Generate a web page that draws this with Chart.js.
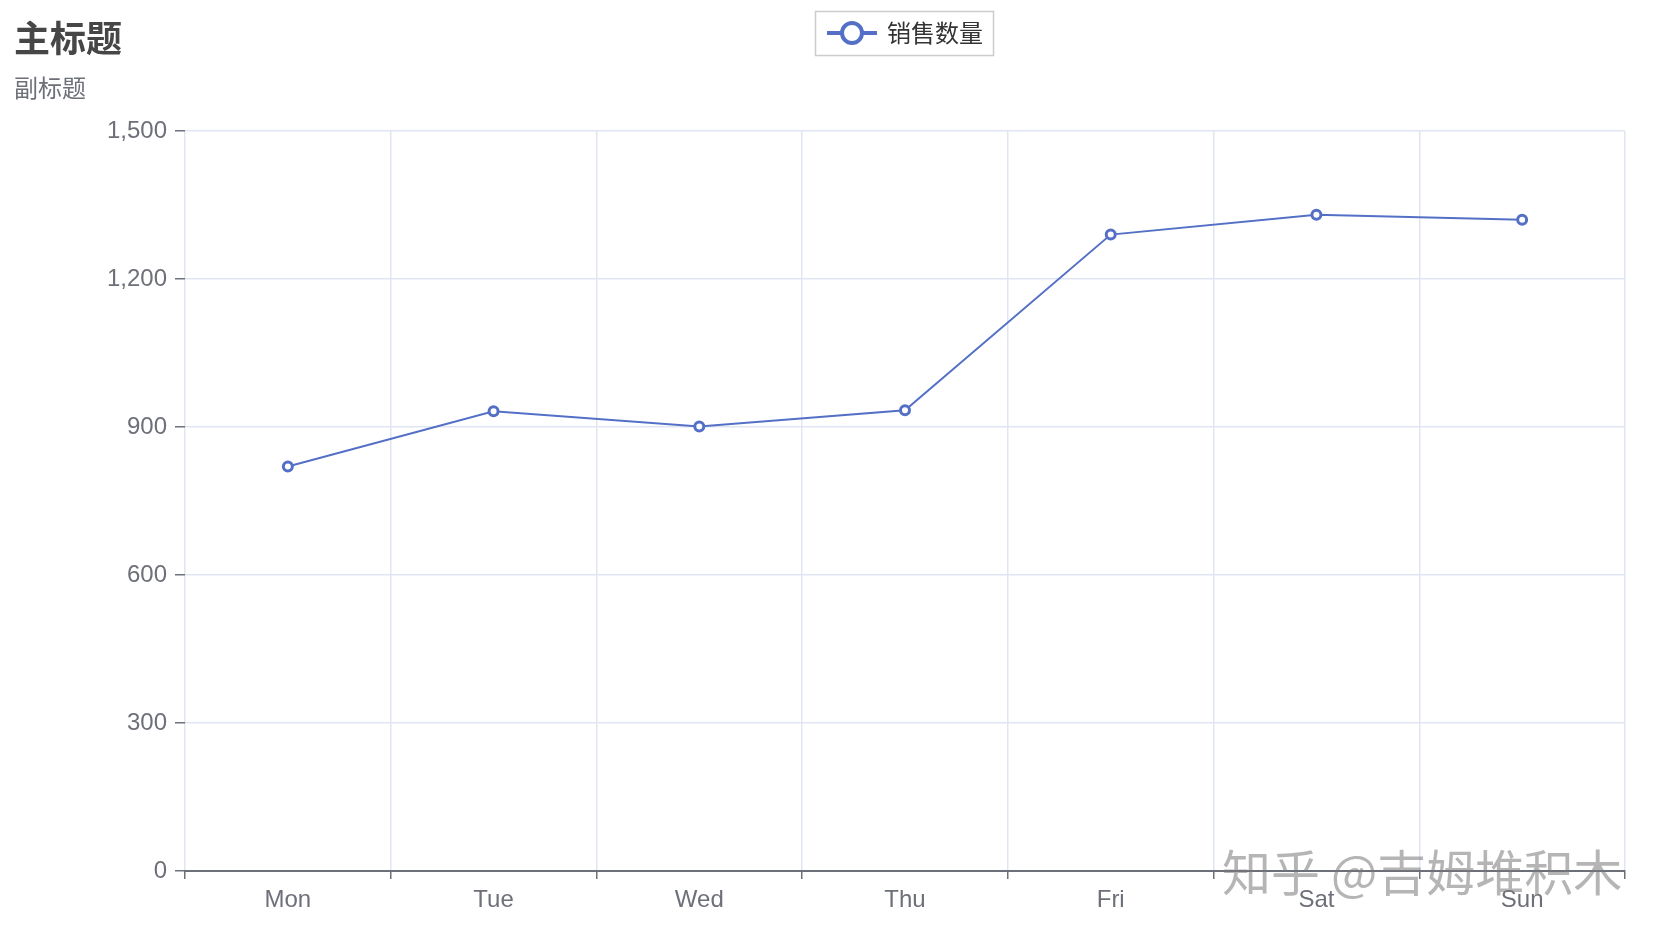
<!DOCTYPE html>
<html>
<head>
<meta charset="utf-8">
<script src="https://cdn.jsdelivr.net/npm/chart.js@4.4.1/dist/chart.umd.min.js"></script>
<style>
    body { margin: 0; background: #fff; }
    #wrap { width: 1670px; height: 940px; position: relative; }
</style>
</head>
<body>
<div id="wrap"><canvas id="chart"></canvas></div>
<script>
// Chart data
const days = ['Mon', 'Tue', 'Wed', 'Thu', 'Fri', 'Sat', 'Sun'];
const salesCount = [820, 932, 901, 934, 1290, 1330, 1320];
const seriesName = '销售数量';
const mainTitle = '主标题';
const subTitle = '副标题';
const watermark = '知乎 @吉姆堆积木';

const LINE_COLOR = '#5470c6';
const AXIS_COLOR = '#6e7079';
const GRID_COLOR = '#e0e6f1';
const LATIN = '"Liberation Sans", Arial, sans-serif';
const CJK = '"Noto Sans CJK SC", sans-serif';

// Titles, legend box and watermark drawn on the canvas
const decorPlugin = {
    id: 'decor',
    afterDraw(chart) {
        const ctx = chart.ctx;
        ctx.save();

        // titles
        ctx.textAlign = 'left';
        ctx.textBaseline = 'middle';
        ctx.fillStyle = '#464646';
        ctx.font = 'bold 36px ' + CJK;
        ctx.fillText(mainTitle, 14, 38);
        ctx.fillStyle = AXIS_COLOR;
        ctx.font = '24px ' + CJK;
        ctx.fillText(subTitle, 14, 88);

        // legend
        const ds = chart.data.datasets[0];
        ctx.strokeStyle = '#ccc';
        ctx.lineWidth = 1.5;
        ctx.strokeRect(815.5, 11.5, 178, 44);
        ctx.strokeStyle = ds.borderColor;
        ctx.lineWidth = 4;
        ctx.beginPath();
        ctx.moveTo(827, 33);
        ctx.lineTo(877, 33);
        ctx.stroke();
        ctx.beginPath();
        ctx.arc(852, 33, 10, 0, Math.PI * 2);
        ctx.fillStyle = '#fff';
        ctx.fill();
        ctx.stroke();
        ctx.fillStyle = '#333';
        ctx.font = '24px ' + CJK;
        ctx.fillText(ds.label, 887, 33);

        // watermark
        ctx.fillStyle = 'rgba(120, 120, 120, 0.55)';
        ctx.font = '49px ' + CJK;
        ctx.fillText(watermark, 1222, 872);

        ctx.restore();
    }
};

const ctx = document.getElementById('chart').getContext('2d');
new Chart(ctx, {
    type: 'line',
    data: {
        labels: days,
        datasets: [{
            label: seriesName,
            data: salesCount,
            borderColor: LINE_COLOR,
            borderWidth: 2,
            backgroundColor: '#fff',
            pointBackgroundColor: '#fff',
            pointBorderColor: LINE_COLOR,
            pointBorderWidth: 3,
            pointRadius: 4.5,
            tension: 0
        }]
    },
    options: {
        responsive: true,
        maintainAspectRatio: false,
        animation: false,
        layout: {
            padding: { left: 0, right: 45, top: 131, bottom: 0 }
        },
        plugins: {
            legend: { display: false },
            title: { display: false },
            tooltip: { enabled: false }
        },
        scales: {
            x: {
                offset: true,
                grid: {
                    offset: true,
                    color: GRID_COLOR,
                    lineWidth: 1.5,
                    tickColor: AXIS_COLOR,
                    tickLength: 8
                },
                border: { color: AXIS_COLOR, width: 2 },
                ticks: {
                    color: AXIS_COLOR,
                    font: { family: LATIN, size: 24 },
                    padding: 7
                },
                afterFit(scale) { scale.height = 69; }
            },
            y: {
                min: 0,
                max: 1500,
                ticks: {
                    stepSize: 300,
                    color: AXIS_COLOR,
                    font: { family: LATIN, size: 24 },
                    padding: 8
                },
                grid: {
                    color: c => (c.tick && c.tick.value === 0 ? 'rgba(0,0,0,0)' : GRID_COLOR),
                    lineWidth: 1.5,
                    tickColor: AXIS_COLOR,
                    tickLength: 10
                },
                border: { display: false },
                afterFit(scale) { scale.width = 185; }
            }
        }
    },
    plugins: [decorPlugin]
});
</script>
</body>
</html>
